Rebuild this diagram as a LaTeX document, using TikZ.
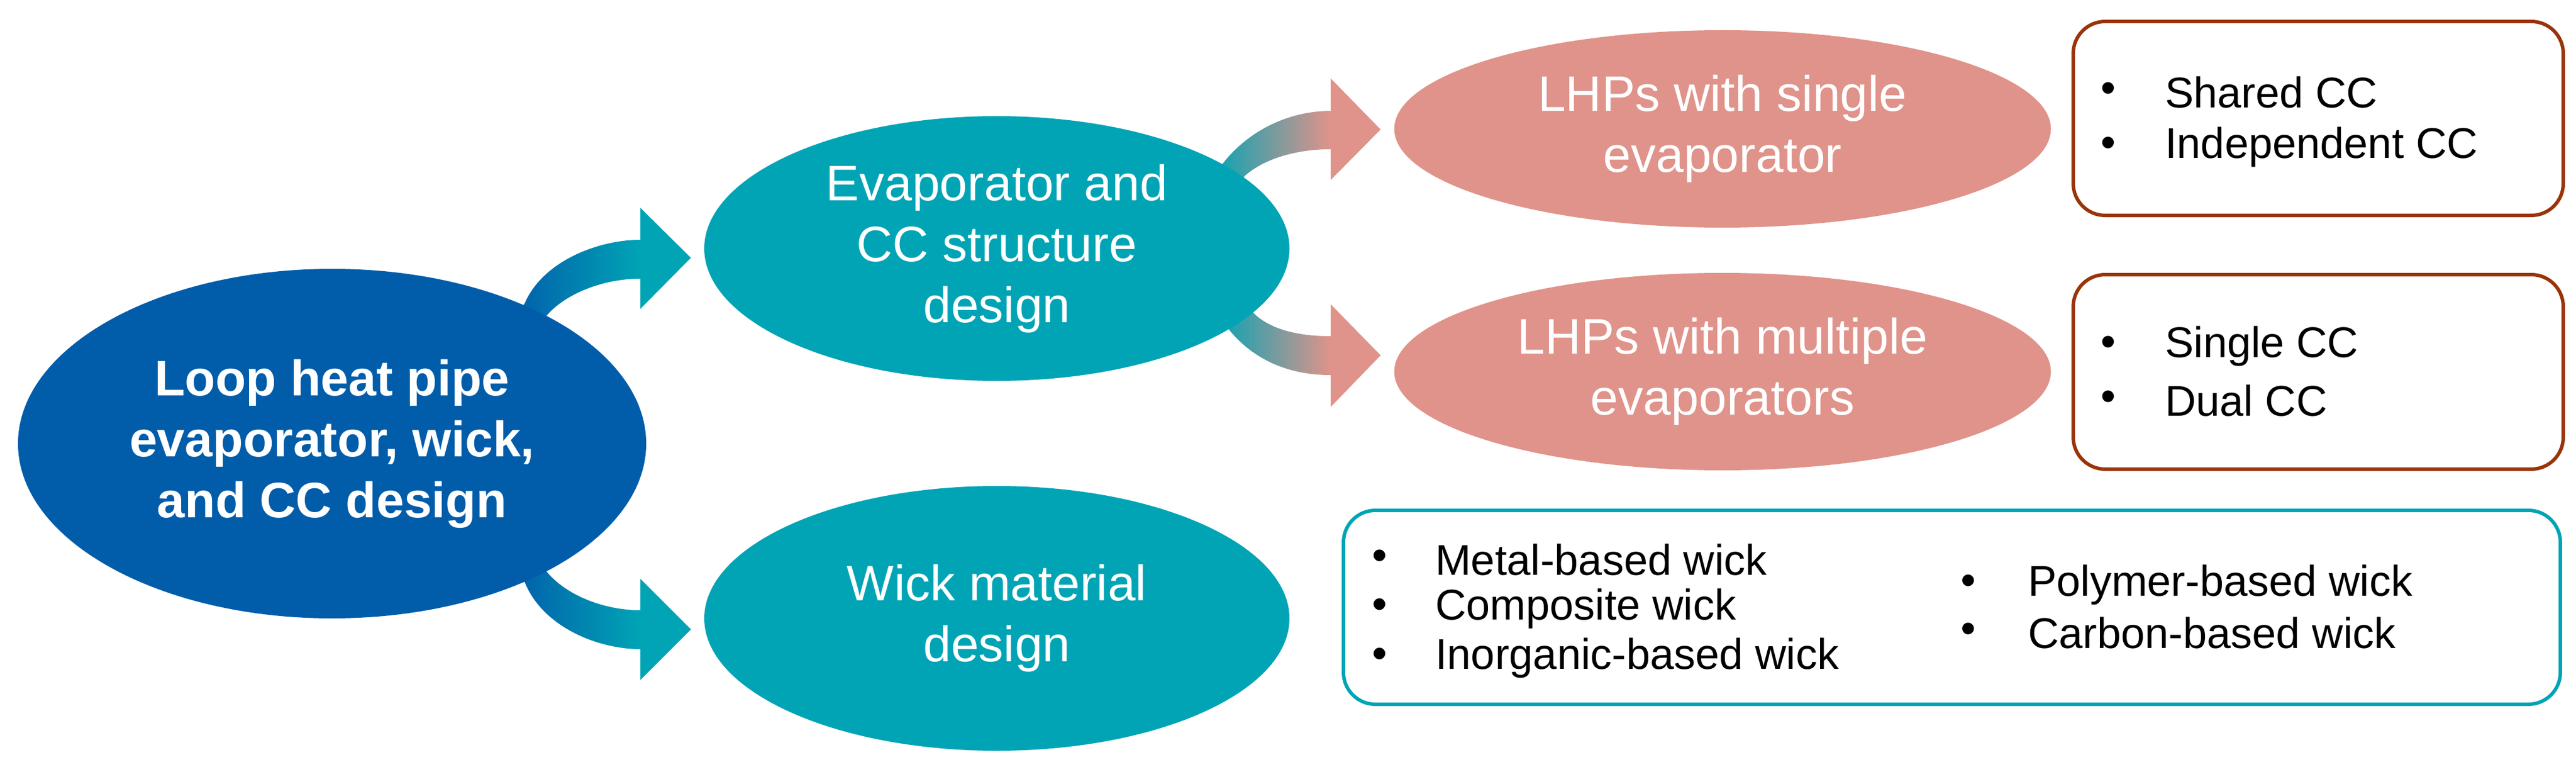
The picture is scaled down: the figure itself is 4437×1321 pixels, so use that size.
\documentclass[tikz,border=0pt]{standalone}
\usepackage{fontspec}
\setmainfont{Liberation Sans}
\usetikzlibrary{shapes.geometric}
\definecolor{dblue}{HTML}{015DAA}
\definecolor{teal}{HTML}{00A4B5}
\definecolor{salmon}{HTML}{E0938A}
\definecolor{brownb}{HTML}{9A3408}
\begin{document}
\begin{tikzpicture}[x=1pt,y=-1pt,
  ell/.style={ellipse, inner sep=0pt, text=white, align=center, font=\fontsize{86}{105}\selectfont},
  box/.style={draw, line width=6pt, rounded corners=55pt},
  bul/.style={font=\fontsize{74}{88}\selectfont, inner sep=0pt},
  txt/.style={font=\fontsize{74}{88}\selectfont, anchor=west, inner sep=0pt}]
\useasboundingbox (0,0) rectangle (4437,1321);
% arrows (drawn first)
\shade[left color=dblue, right color=teal] (880,560) -- (904,522) .. controls (935,450) and (1030,413) .. (1103,413) -- (1103,480) .. controls (1040,480) and (975,505) .. (942,543) -- (910,590) -- cycle;
\fill[teal] (1103,358) -- (1190,444) -- (1103,532) -- cycle;
\shade[left color=dblue, right color=teal] (880,970) -- (904,1003) .. controls (935,1080) and (1030,1118) .. (1103,1118) -- (1103,1051) .. controls (1040,1051) and (975,1025) .. (942,985) -- (910,940) -- cycle;
\fill[teal] (1103,997) -- (1190,1084) -- (1103,1171) -- cycle;
\shade[left color=teal, right color=salmon] (2080,320) -- (2106,282) .. controls (2150,225) and (2220,191) .. (2292,191) -- (2292,257) .. controls (2230,257) and (2175,275) .. (2144,303) -- (2110,340) -- cycle;
\fill[salmon] (2292,135) -- (2378,223) -- (2292,310) -- cycle;
\shade[left color=teal, right color=salmon] (2090,530) -- (2118,569) .. controls (2160,620) and (2220,646) .. (2292,646) -- (2292,579) .. controls (2230,579) and (2185,565) .. (2159,539) -- (2130,505) -- cycle;
\fill[salmon] (2292,524) -- (2378,612) -- (2292,701) -- cycle;
% ellipses
\node[ell, fill=dblue, minimum width=1082pt, minimum height=602pt, font=\fontsize{86}{105}\selectfont\bfseries] (main) at (572,764) {Loop heat pipe\\evaporator, wick,\\and CC design};
\node[ell, fill=teal, minimum width=1008pt, minimum height=456pt] (evap) at (1717,428) {Evaporator and\\CC structure\\design};
\node[ell, fill=teal, minimum width=1008pt, minimum height=456pt] (wick) at (1717,1065) {Wick material\\design};
\node[ell, fill=salmon, minimum width=1131pt, minimum height=340pt] (single) at (2967,222) {LHPs with single\\evaporator};
\node[ell, fill=salmon, minimum width=1131pt, minimum height=340pt] (multi) at (2967,640) {LHPs with multiple\\evaporators};
% boxes
\draw[box, draw=brownb] (3571,37) rectangle (4415,371);
\draw[box, draw=brownb] (3571,473) rectangle (4415,808);
\draw[box, draw=teal] (2314,879) rectangle (4410,1213);
% box texts
\node[bul] (b1) at (3631,159) {•}; \node[txt] (t1) at (3729,159) {Shared CC};
\node[bul] (b2) at (3631,253) {•}; \node[txt] (t2) at (3729,253) {Independent CC};
\node[bul] (b3) at (3631,596) {•}; \node[txt] (t3) at (3729,596) {Single CC};
\node[bul] (b4) at (3631,690) {•}; \node[txt] (t4) at (3729,690) {Dual CC};
\node[bul] (b5) at (2376,964) {•}; \node[txt] (t5) at (2472,964) {Metal-based wick};
\node[bul] (b6) at (2376,1048) {•}; \node[txt] (t6) at (2472,1048) {Composite wick};
\node[bul] (b7) at (2376,1133) {•}; \node[txt] (t7) at (2472,1133) {Inorganic-based wick};
\node[bul] (b8) at (3390,1007) {•}; \node[txt] (t8) at (3493,1007) {Polymer-based wick};
\node[bul] (b9) at (3390,1090) {•}; \node[txt] (t9) at (3493,1090) {Carbon-based wick};
\end{tikzpicture}
\end{document}
